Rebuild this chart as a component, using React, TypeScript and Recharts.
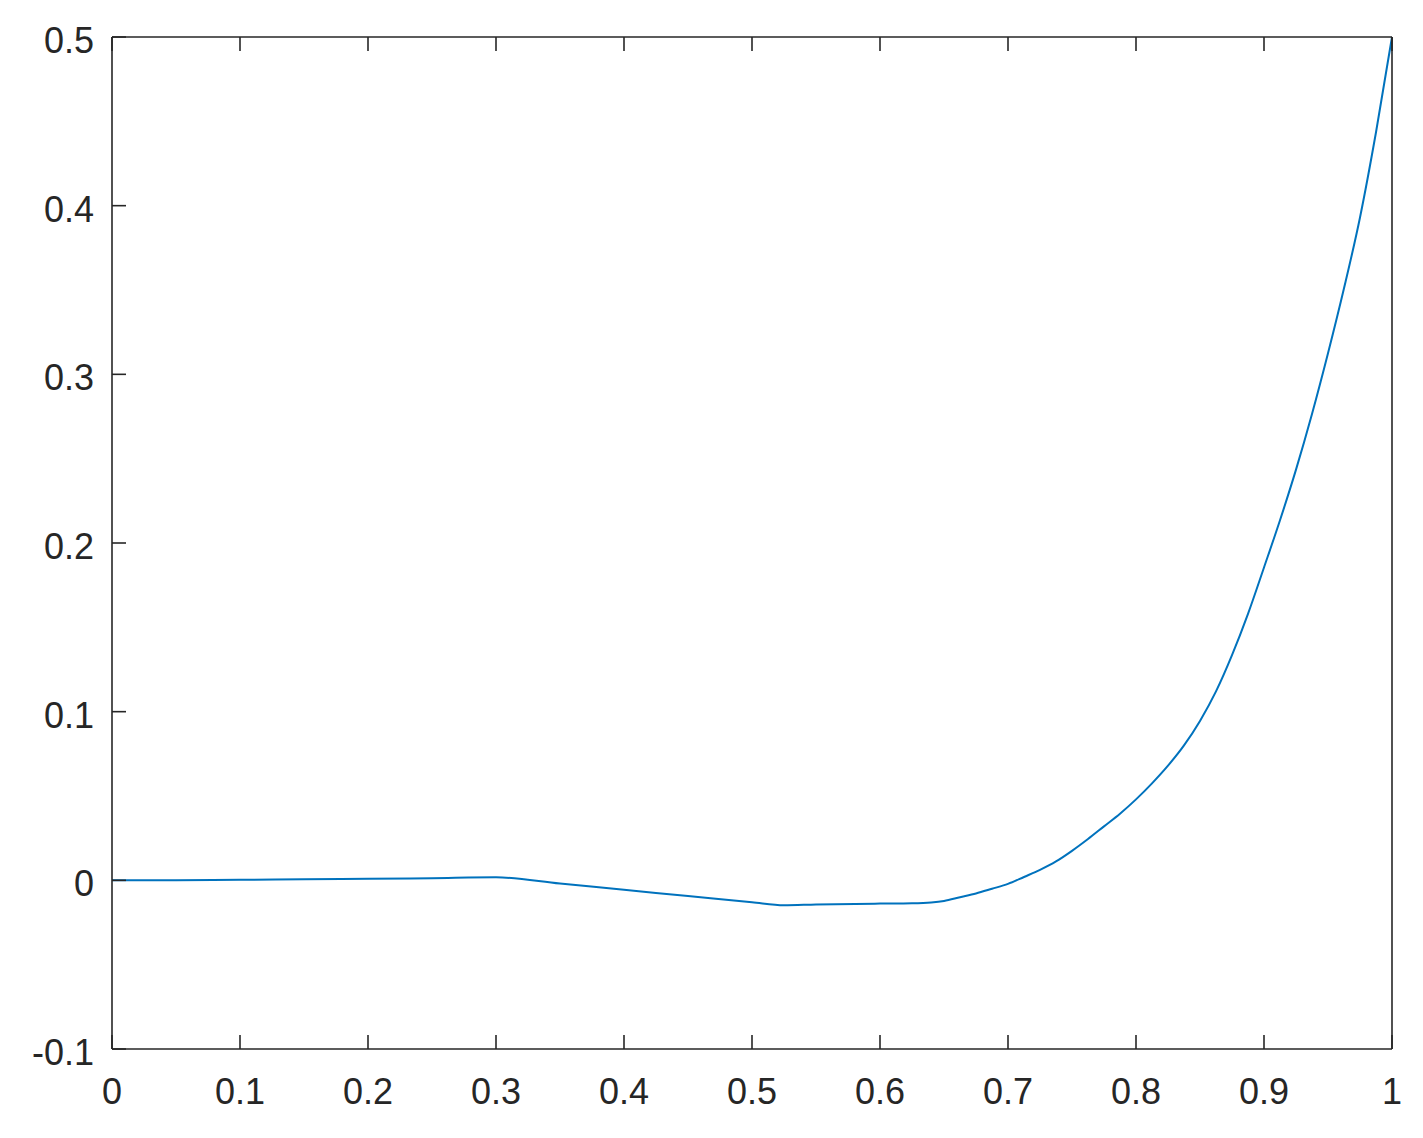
import { LineChart, Line, XAxis, YAxis } from 'recharts';

const xValues = [
  0, 0.05, 0.1, 0.15, 0.2, 0.25, 0.3, 0.35, 0.4, 0.45, 0.5, 0.525, 0.55, 0.6, 0.625, 0.64, 0.65,
  0.6625, 0.675, 0.6875, 0.7, 0.7125, 0.725, 0.7375, 0.75, 0.7625, 0.775, 0.7875, 0.8, 0.8125,
  0.825, 0.8375, 0.85, 0.8625, 0.875, 0.8875, 0.9, 0.9125, 0.925, 0.9375, 0.95, 0.9625, 0.975,
  0.9875, 1,
];
const yValues = [
  0, 0.0001, 0.0003, 0.0006, 0.0009, 0.0013, 0.0018, -0.0019, -0.0056, -0.0093, -0.013, -0.0148,
  -0.0143, -0.0138, -0.0136, -0.0131, -0.0122, -0.01, -0.0078, -0.005, -0.0021, 0.002, 0.0062,
  0.0112, 0.0175, 0.0245, 0.032, 0.0395, 0.048, 0.0575, 0.068, 0.08, 0.0945, 0.112, 0.1335,
  0.158, 0.1855, 0.2135, 0.2435, 0.2765, 0.3125, 0.351, 0.393, 0.4435, 0.5,
];
const xTicks = [0, 0.1, 0.2, 0.3, 0.4, 0.5, 0.6, 0.7, 0.8, 0.9, 1];
const yTicks = [-0.1, 0, 0.1, 0.2, 0.3, 0.4, 0.5];

const data = xValues.map((x, i) => ({ x, y: yValues[i] }));

const AXIS = '#262626';
const FONT = 'Liberation Sans, Arial, Helvetica, sans-serif';
const FONT_SIZE = 36;
const TICK_LEN = 14;
const AXIS_W = 1.6;

// inward tick marks, MATLAB style, with optional labels
function BottomTick(props: any) {
  const { x, y, payload } = props;
  return (
    <g>
      <line x1={x} y1={y} x2={x} y2={y - TICK_LEN} stroke={AXIS} strokeWidth={AXIS_W} />
      <text x={x} y={y + 55} textAnchor="middle" fill={AXIS} fontSize={FONT_SIZE} fontFamily={FONT}>
        {String(payload.value)}
      </text>
    </g>
  );
}

function TopTick(props: any) {
  const { x, y } = props;
  return <line x1={x} y1={y} x2={x} y2={y + TICK_LEN} stroke={AXIS} strokeWidth={AXIS_W} />;
}

function LeftTick(props: any) {
  const { x, y, payload } = props;
  return (
    <g>
      <line x1={x} y1={y} x2={x + TICK_LEN} y2={y} stroke={AXIS} strokeWidth={AXIS_W} />
      <text x={x - 18} y={y + 16} textAnchor="end" fill={AXIS} fontSize={FONT_SIZE} fontFamily={FONT}>
        {String(payload.value)}
      </text>
    </g>
  );
}

function RightTick(props: any) {
  const { x, y } = props;
  return <line x1={x} y1={y} x2={x - TICK_LEN} y2={y} stroke={AXIS} strokeWidth={AXIS_W} />;
}

export default function App() {
  return (
    <div style={{ width: 1415, height: 1130 }}>
      <LineChart width={1415} height={1130} data={data} margin={{ top: 28, right: 30, bottom: 59, left: 44 }}>
        <XAxis
          xAxisId="bottom"
          dataKey="x"
          type="number"
          domain={[0, 1]}
          ticks={xTicks}
          height={30}
          stroke={AXIS}
          strokeWidth={AXIS_W}
          tickLine={false}
          tickSize={0}
          tickMargin={0}
          tick={BottomTick}
          interval={0}
        />
        <XAxis
          xAxisId="top"
          orientation="top"
          dataKey="x"
          type="number"
          domain={[0, 1]}
          ticks={xTicks}
          height={1}
          stroke={AXIS}
          strokeWidth={AXIS_W}
          tickLine={false}
          tickSize={0}
          tickMargin={0}
          tick={TopTick}
          interval={0}
        />
        <YAxis
          yAxisId="left"
          type="number"
          domain={[-0.1, 0.5]}
          ticks={yTicks}
          width={60}
          stroke={AXIS}
          strokeWidth={AXIS_W}
          tickLine={false}
          tickSize={0}
          tickMargin={0}
          tick={LeftTick}
          interval={0}
        />
        <YAxis
          yAxisId="right"
          orientation="right"
          type="number"
          domain={[-0.1, 0.5]}
          ticks={yTicks}
          width={1}
          stroke={AXIS}
          strokeWidth={AXIS_W}
          tickLine={false}
          tickSize={0}
          tickMargin={0}
          tick={RightTick}
          interval={0}
        />
        <Line
          xAxisId="bottom"
          yAxisId="left"
          dataKey="y"
          type="monotone"
          stroke="#0072BD"
          strokeWidth={2}
          dot={false}
          isAnimationActive={false}
        />
      </LineChart>
    </div>
  );
}
